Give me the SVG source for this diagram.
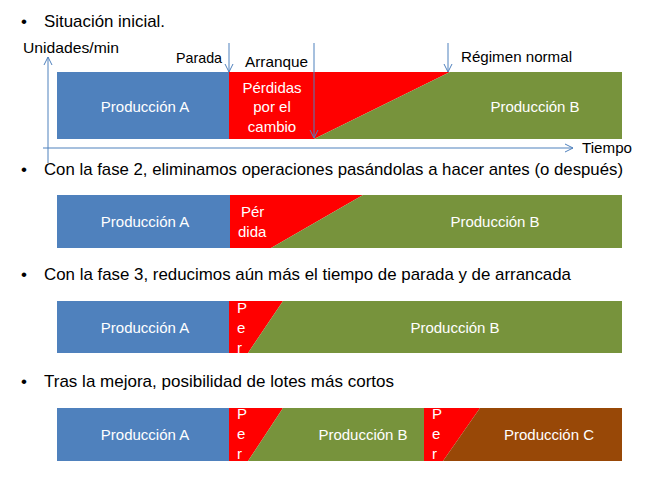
<svg xmlns="http://www.w3.org/2000/svg" width="650" height="479" viewBox="0 0 650 479">
<style>
.blue{fill:#4F81BD}.red{fill:#FF0000}.green{fill:#77933C}.brown{fill:#984807}
.bt{font-family:"Liberation Sans",Arial,sans-serif;font-size:15px;fill:#FFFFFF}
.lbl{font-family:"Liberation Sans",Arial,sans-serif;font-size:15px;fill:#000000}
.bul{font-family:"Liberation Sans",Arial,sans-serif;font-size:17px;fill:#000000}
.ax{stroke:#4F81BD;stroke-width:1;fill:none}
</style>
<defs>
<marker id="v" viewBox="0 0 10 10" refX="9" refY="5" markerWidth="10" markerHeight="10" markerUnits="userSpaceOnUse" orient="auto">
<polyline points="1,1 9,5 1,9" fill="none" stroke="#4F81BD" stroke-width="1"/>
</marker>
<clipPath id="c3"><rect x="57" y="301" width="565" height="52"/></clipPath>
<clipPath id="c4"><rect x="57" y="408" width="565" height="53"/></clipPath>
</defs>
<g id="bullets">
<text class="bul" x="21" y="27">•</text>
<text class="bul" x="44" y="27" textLength="121" lengthAdjust="spacingAndGlyphs">Situación inicial.</text>
<text class="bul" x="21" y="175">•</text>
<text class="bul" x="44" y="175" textLength="579" lengthAdjust="spacingAndGlyphs">Con la fase 2, eliminamos operaciones pasándolas a hacer antes (o después)</text>
<text class="bul" x="21" y="280">•</text>
<text class="bul" x="44" y="280" textLength="527" lengthAdjust="spacingAndGlyphs">Con la fase 3, reducimos aún más el tiempo de parada y de arrancada</text>
<text class="bul" x="21" y="387">•</text>
<text class="bul" x="44" y="387" textLength="350" lengthAdjust="spacingAndGlyphs">Tras la mejora, posibilidad de lotes más cortos</text>
</g>
<g id="row1">
<rect class="blue" x="57" y="72" width="172" height="67"/>
<polygon class="red" points="229,72 450,72 314,139 229,139"/>
<polygon class="green" points="450,72 622,72 622,139 314,139"/>
<text class="bt" x="145" y="112" text-anchor="middle">Producción A</text>
<text class="bt" x="272" y="93" text-anchor="middle">Pérdidas</text>
<text class="bt" x="272" y="112" text-anchor="middle">por el</text>
<text class="bt" x="272" y="132" text-anchor="middle">cambio</text>
<text class="bt" x="535" y="112" text-anchor="middle">Producción B</text>
</g>
<g id="labels">
<text class="lbl" x="23" y="53" textLength="96" lengthAdjust="spacingAndGlyphs">Unidades/min</text>
<text class="lbl" x="176" y="63" textLength="46" lengthAdjust="spacingAndGlyphs">Parada</text>
<text class="lbl" x="245" y="67" textLength="63" lengthAdjust="spacingAndGlyphs">Arranque</text>
<text class="lbl" x="461" y="62" textLength="111" lengthAdjust="spacingAndGlyphs">Régimen normal</text>
<text class="lbl" x="582" y="153" textLength="50" lengthAdjust="spacingAndGlyphs">Tiempo</text>
</g>
<g id="connectors">
<line class="ax" x1="48" y1="163" x2="48" y2="57" marker-end="url(#v)"/>
<line class="ax" x1="43" y1="148" x2="573" y2="148" marker-end="url(#v)"/>
<line class="ax" x1="229" y1="43" x2="229" y2="72" marker-end="url(#v)"/>
<line class="ax" x1="314" y1="43" x2="314" y2="138" marker-end="url(#v)"/>
<line class="ax" x1="448" y1="43" x2="448" y2="72" marker-end="url(#v)"/>
</g>
<g id="row2">
<rect class="blue" x="57" y="195" width="173" height="53"/>
<polygon class="red" points="230,195 363,195 271,248 230,248"/>
<polygon class="green" points="363,195 622,195 622,248 271,248"/>
<text class="bt" x="145" y="227" text-anchor="middle">Producción A</text>
<text class="bt" x="241" y="217">Pér</text>
<text class="bt" x="238" y="237">dida</text>
<text class="bt" x="495" y="227" text-anchor="middle">Producción B</text>
</g>
<g id="row3">
<rect class="blue" x="57" y="301" width="172" height="52"/>
<polygon class="red" points="229,301 283,301 248,353 229,353"/>
<polygon class="green" points="283,301 622,301 622,353 248,353"/>
<text class="bt" x="145" y="333" text-anchor="middle">Producción A</text>
<g clip-path="url(#c3)">
<text class="bt" x="237" y="313">P</text>
<text class="bt" x="237" y="333">e</text>
<text class="bt" x="237" y="353">r</text>
</g>
<text class="bt" x="455" y="333" text-anchor="middle">Producción B</text>
</g>
<g id="row4">
<rect class="blue" x="57" y="408" width="172" height="53"/>
<polygon class="red" points="229,408 283,408 248,461 229,461"/>
<polygon class="green" points="283,408 424,408 424,461 248,461"/>
<polygon class="red" points="424,408 480,408 443,461 424,461"/>
<polygon class="brown" points="480,408 622,408 622,461 443,461"/>
<text class="bt" x="145" y="440" text-anchor="middle">Producción A</text>
<text class="bt" x="363" y="440" text-anchor="middle">Producción B</text>
<text class="bt" x="549" y="440" text-anchor="middle">Producción C</text>
<g clip-path="url(#c4)">
<text class="bt" x="237" y="419">P</text>
<text class="bt" x="237" y="439">e</text>
<text class="bt" x="237" y="459">r</text>
<text class="bt" x="432" y="419">P</text>
<text class="bt" x="432" y="439">e</text>
<text class="bt" x="432" y="459">r</text>
</g>
</g>
</svg>
